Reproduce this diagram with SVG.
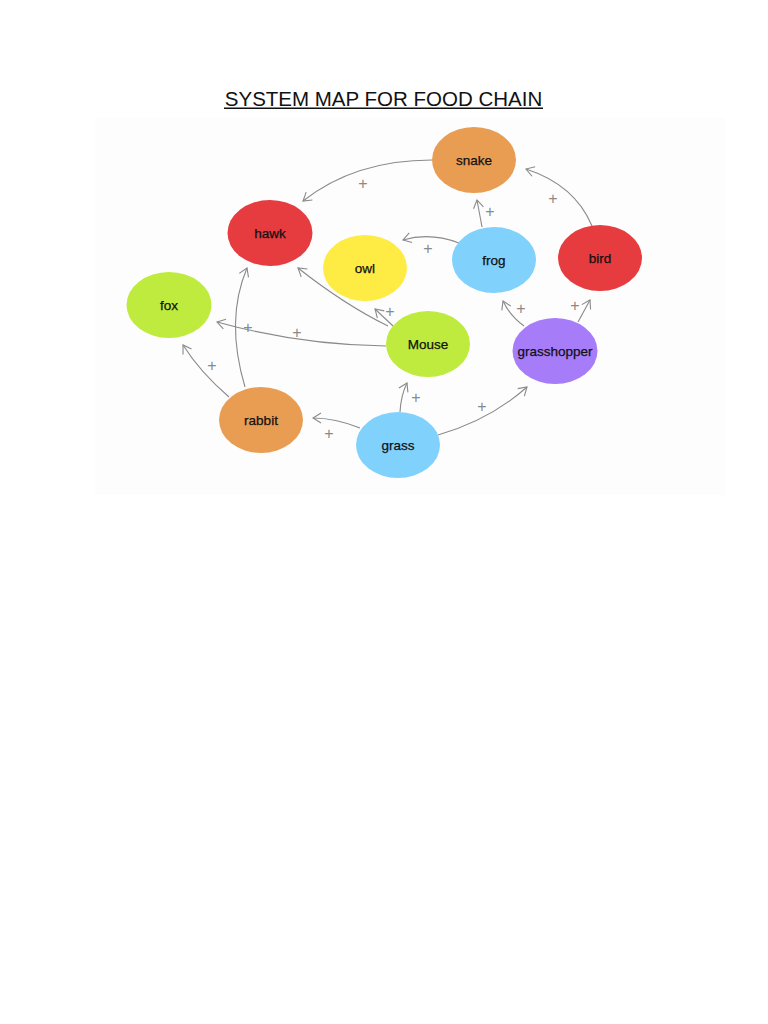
<svg xmlns="http://www.w3.org/2000/svg" width="768" height="1024" viewBox="0 0 768 1024">
<style>
.n text{font-family:"Liberation Sans",Arial,sans-serif;font-size:13.5px;fill:#111;text-anchor:middle;stroke:#111;stroke-width:0.25}
.c path{fill:none;stroke:#8a8a8a;stroke-width:1.1}
.p{font-family:"Liberation Sans",Arial,sans-serif;font-size:16px;fill:#8a8a8a;text-anchor:middle}
.title{font-family:"Liberation Sans",Arial,sans-serif;font-size:20.5px;fill:#111;text-anchor:middle}
</style>
<defs>
<marker id="a" viewBox="0 0 10 12" refX="9" refY="6" markerWidth="10" markerHeight="12" markerUnits="userSpaceOnUse" orient="auto">
<path d="M1,1 L9,6 L1,11" fill="none" stroke="#8a8a8a" stroke-width="1.1"/>
</marker>
</defs>
<rect width="768" height="1024" fill="#ffffff"/>
<rect x="95" y="118" width="630" height="377" fill="#fdfdfd"/>
<text class="title" x="383.5" y="106">SYSTEM MAP FOR FOOD CHAIN</text>
<rect x="224" y="107.5" width="319" height="1.5" fill="#111"/>
<g class="c" id="connectors">
<path d="M432,160 Q355,160 303,201" marker-end="url(#a)"/>
<path d="M459,243 Q430,232 403,240" marker-end="url(#a)"/>
<path d="M482,227 L477,200" marker-end="url(#a)"/>
<path d="M592,226 Q575,185 526,169" marker-end="url(#a)"/>
<path d="M524,326 Q510,316 503,301" marker-end="url(#a)"/>
<path d="M578,322 L590,300" marker-end="url(#a)"/>
<path d="M393,326 L375,309" marker-end="url(#a)"/>
<path d="M388,326 Q345,305 298,268" marker-end="url(#a)"/>
<path d="M386,346 Q300,345 217,322" marker-end="url(#a)"/>
<path d="M245,387 Q225,320 247,268" marker-end="url(#a)"/>
<path d="M229,397 Q200,372 183,345" marker-end="url(#a)"/>
<path d="M360,428 Q335,418 313,418" marker-end="url(#a)"/>
<path d="M400,412 Q401,395 407,383" marker-end="url(#a)"/>
<path d="M438,435 Q490,420 527,387" marker-end="url(#a)"/>
</g>
<g id="labels">
<text class="p" x="363" y="189">+</text>
<text class="p" x="428" y="254">+</text>
<text class="p" x="490" y="217">+</text>
<text class="p" x="553" y="204">+</text>
<text class="p" x="521" y="314">+</text>
<text class="p" x="575" y="311">+</text>
<text class="p" x="390" y="317">+</text>
<text class="p" x="297" y="338">+</text>
<text class="p" x="248" y="333">+</text>
<text class="p" x="212" y="371">+</text>
<text class="p" x="329" y="439">+</text>
<text class="p" x="416" y="403">+</text>
<text class="p" x="482" y="412">+</text>
</g>
<g class="n" id="snake"><ellipse cx="474" cy="160" rx="42" ry="33" fill="#E99D52"/><text x="474" y="164.5">snake</text></g>
<g class="n" id="hawk"><ellipse cx="270" cy="233" rx="42.5" ry="33" fill="#E63B3F"/><text x="270" y="237.5">hawk</text></g>
<g class="n" id="owl"><ellipse cx="365" cy="268" rx="42" ry="33" fill="#FEEB43"/><text x="365" y="272.5">owl</text></g>
<g class="n" id="frog"><ellipse cx="494" cy="260" rx="42" ry="33" fill="#80D2FC"/><text x="494" y="264.5">frog</text></g>
<g class="n" id="bird"><ellipse cx="600" cy="258" rx="42" ry="33" fill="#E63B3F"/><text x="600" y="262.5">bird</text></g>
<g class="n" id="fox"><ellipse cx="169" cy="305" rx="42.5" ry="33" fill="#BEEB3D"/><text x="169" y="309.5">fox</text></g>
<g class="n" id="mouse"><ellipse cx="428" cy="344" rx="42" ry="33" fill="#BEEB3D"/><text x="428" y="348.5">Mouse</text></g>
<g class="n" id="grasshopper"><ellipse cx="555" cy="351" rx="42.5" ry="33" fill="#A77CF9"/><text x="555" y="355.5">grasshopper</text></g>
<g class="n" id="rabbit"><ellipse cx="261" cy="420" rx="42" ry="33" fill="#E99D52"/><text x="261" y="424.5">rabbit</text></g>
<g class="n" id="grass"><ellipse cx="398" cy="445" rx="42" ry="33" fill="#80D2FC"/><text x="398" y="449.5">grass</text></g>
</svg>
